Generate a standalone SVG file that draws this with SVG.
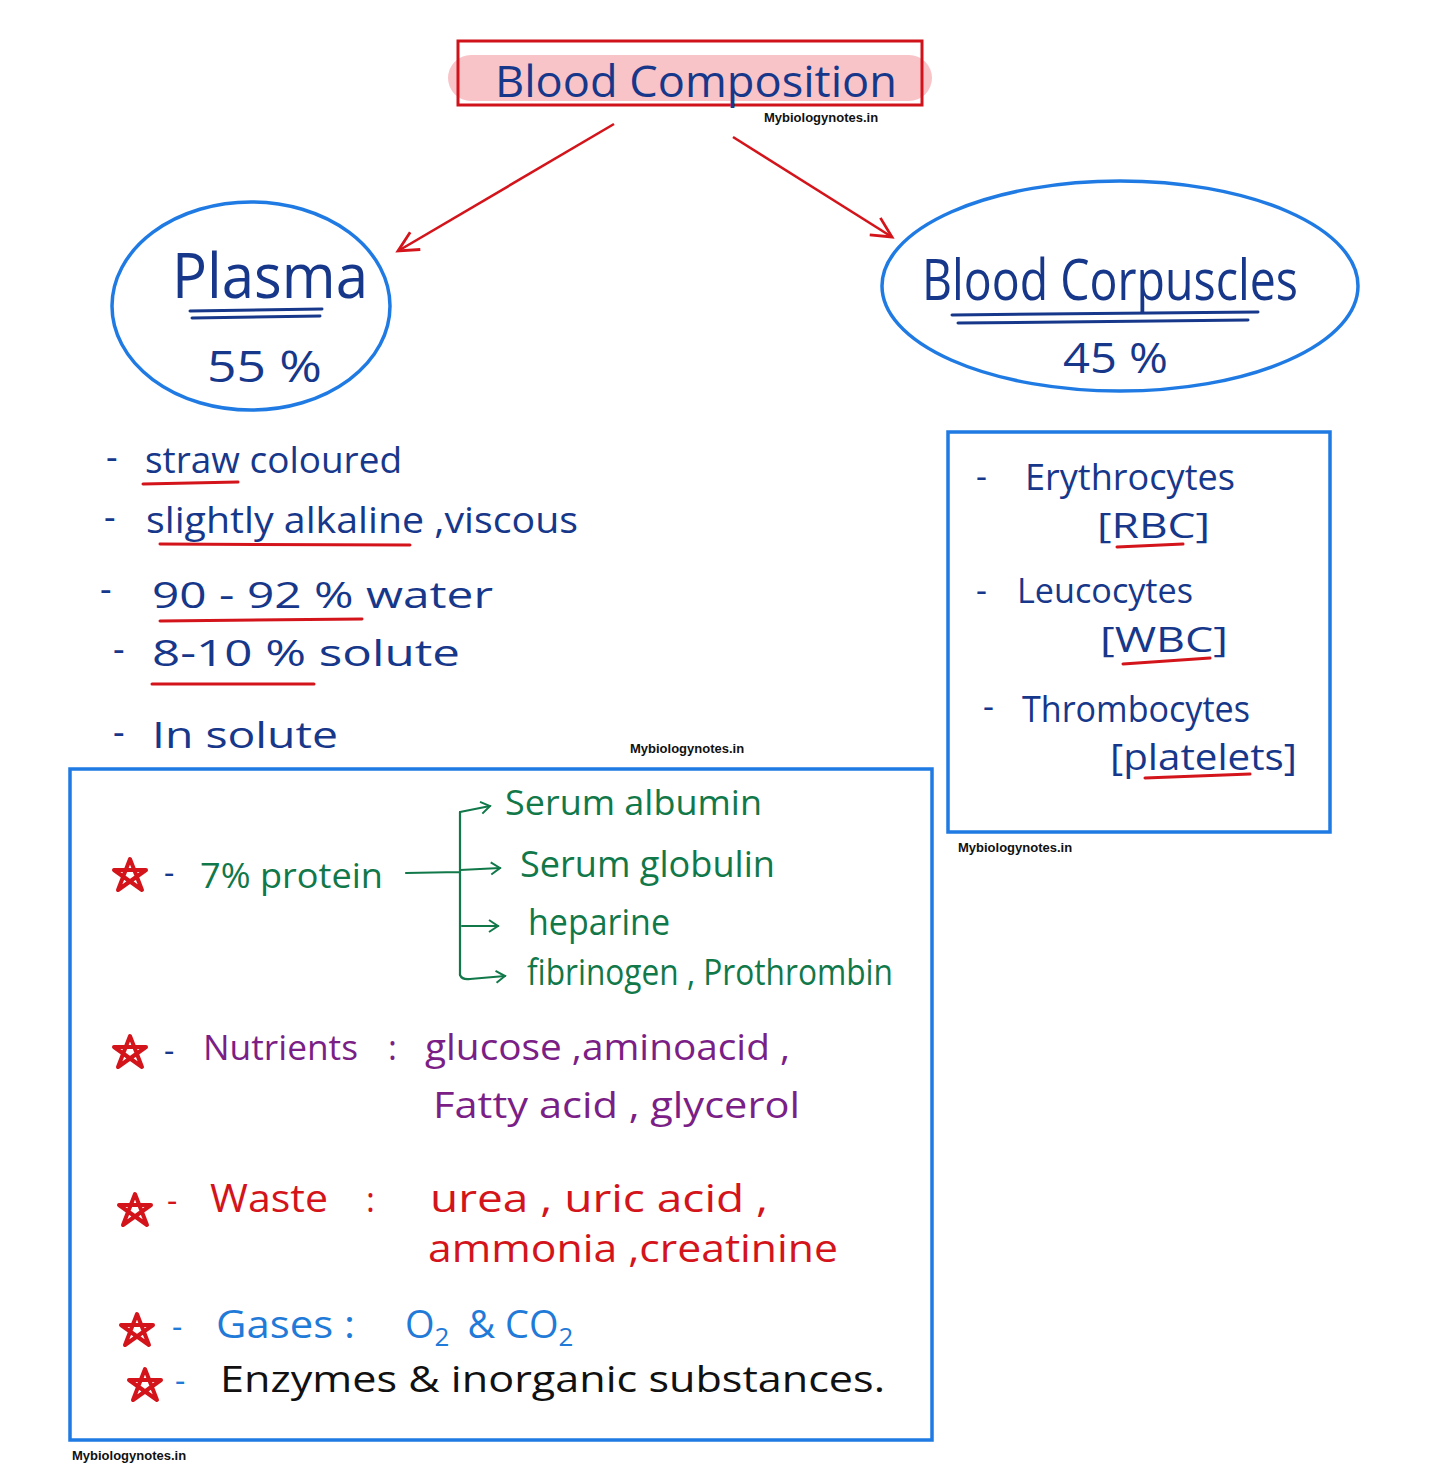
<svg xmlns="http://www.w3.org/2000/svg" width="1440" height="1484" viewBox="0 0 1440 1484">
<style>
text{font-family:"Open Sans","Liberation Sans",sans-serif}
.navy{fill:#17388a}
.green{fill:#11784a}
.purple{fill:#7b1f86}
.red{fill:#d3141b}
.lblue{fill:#1f7ad8}
.black{fill:#111}
.wm{font-family:"Liberation Sans",sans-serif;font-size:13px;font-weight:bold;fill:#111}
.blueline{fill:none;stroke:#1f7be3;stroke-width:3.5}
.ul{stroke:#d3141b;stroke-width:3;stroke-linecap:round;fill:none}
.nul{stroke:#17388a;stroke-width:3;stroke-linecap:round;fill:none}
.gline{stroke:#11784a;stroke-width:2.2;fill:none;stroke-linecap:round}
.star{fill:none;stroke:#d3141b;stroke-width:4;stroke-linejoin:round}
</style>
<defs>
<marker id="ah" markerWidth="30" markerHeight="30" refX="22" refY="11" orient="auto" markerUnits="userSpaceOnUse" viewBox="0 0 30 22">
<path d="M2,1 L22,11 L2,21" fill="none" stroke="#d3141b" stroke-width="2.8"/>
</marker>
<marker id="gh" markerWidth="16" markerHeight="16" refX="12" refY="8" orient="auto" markerUnits="userSpaceOnUse" viewBox="0 0 16 16">
<path d="M3,2 L12,8 L3,14" fill="none" stroke="#11784a" stroke-width="2"/>
</marker>
<path id="starp" d="M-12,15 L0,-16 L12,15 L-16,-5 L16,-5 Z"/>
</defs>
<rect width="1440" height="1484" fill="#fff"/>

<g id="title">
<rect x="448" y="55" width="484" height="46" rx="23" fill="#f8c4c8"/>
<rect x="458" y="41" width="464" height="64" fill="none" stroke="#d0121b" stroke-width="3"/>
<text x="495" y="97" class="navy" font-size="43" textLength="402" lengthAdjust="spacingAndGlyphs">Blood Composition</text>
<text x="764" y="122" class="wm">Mybiologynotes.in</text>
</g>

<g id="connectors">
<line x1="614" y1="124" x2="398" y2="251" stroke="#d3141b" stroke-width="2.6" marker-end="url(#ah)"/>
<line x1="733" y1="137" x2="892" y2="237" stroke="#d3141b" stroke-width="2.6" marker-end="url(#ah)"/>
</g>

<g id="plasma">
<ellipse cx="251" cy="306" rx="139" ry="104" class="blueline"/>
<text x="172" y="298" class="navy" font-size="62" textLength="196" lengthAdjust="spacingAndGlyphs">Plasma</text>
<path d="M190,311 L322,309 M192,318 L320,316" class="nul"/>
<text x="207" y="382" class="navy" font-size="44" textLength="115" lengthAdjust="spacingAndGlyphs">55 %</text>
</g>

<g id="corpuscles">
<ellipse cx="1120" cy="286" rx="238" ry="105" class="blueline"/>
<text x="922" y="300" class="navy" font-size="56" textLength="376" lengthAdjust="spacingAndGlyphs">Blood Corpuscles</text>
<path d="M952,315 L1258,312 M958,323 L1248,320" class="nul"/>
<text x="1063" y="373" class="navy" font-size="42" textLength="105" lengthAdjust="spacingAndGlyphs">45 %</text>
</g>

<g id="plasma-props" class="navy">
<text x="106" y="470" font-size="36">-</text>
<text x="145" y="473" font-size="36" textLength="257" lengthAdjust="spacingAndGlyphs">straw coloured</text>
<path d="M143,484 L238,482" class="ul"/>
<text x="104" y="530" font-size="36">-</text>
<text x="146" y="533" font-size="36" textLength="432" lengthAdjust="spacingAndGlyphs">slightly alkaline ,viscous</text>
<path d="M160,544 L410,545" class="ul"/>
<text x="100" y="602" font-size="36">-</text>
<text x="152" y="608" font-size="36" textLength="341" lengthAdjust="spacingAndGlyphs">90 - 92 % water</text>
<path d="M160,621 L362,619" class="ul"/>
<text x="113" y="662" font-size="36">-</text>
<text x="152" y="666" font-size="36" textLength="308" lengthAdjust="spacingAndGlyphs">8-10 % solute</text>
<path d="M152,684 L314,684" class="ul"/>
<text x="113" y="745" font-size="36">-</text>
<text x="152" y="748" font-size="36" textLength="186" lengthAdjust="spacingAndGlyphs">In solute</text>
<text x="630" y="753" class="wm">Mybiologynotes.in</text>
</g>

<g id="solute-box">
<rect x="70" y="769" width="862" height="671" class="blueline"/>
<use href="#starp" x="130" y="875" class="star"/>
<text x="164" y="884" font-size="32" class="navy">-</text>
<text x="200" y="888" font-size="34" class="green" textLength="183" lengthAdjust="spacingAndGlyphs">7% protein</text>
<path d="M406,873 L460,872 M460,812 L460,975" class="gline"/>
<path d="M460,812 L490,806" class="gline" marker-end="url(#gh)"/>
<path d="M460,870 L500,868" class="gline" marker-end="url(#gh)"/>
<path d="M462,926 L498,926" class="gline" marker-end="url(#gh)"/>
<path d="M460,975 Q462,980 470,979 L505,976" class="gline" marker-end="url(#gh)"/>
<text x="505" y="815" font-size="34" class="green" textLength="257" lengthAdjust="spacingAndGlyphs">Serum albumin</text>
<text x="520" y="877" font-size="36" class="green" textLength="255" lengthAdjust="spacingAndGlyphs">Serum globulin</text>
<text x="528" y="935" font-size="36" class="green" textLength="142" lengthAdjust="spacingAndGlyphs">heparine</text>
<text x="527" y="985" font-size="36" class="green" textLength="366" lengthAdjust="spacingAndGlyphs">fibrinogen , Prothrombin</text>

<use href="#starp" x="130" y="1052" class="star"/>
<text x="164" y="1062" font-size="32" class="navy">-</text>
<text x="203" y="1060" font-size="34" class="purple" textLength="155" lengthAdjust="spacingAndGlyphs">Nutrients</text>
<text x="388" y="1060" font-size="34" class="purple">:</text>
<text x="425" y="1060" font-size="36" class="purple" textLength="365" lengthAdjust="spacingAndGlyphs">glucose ,aminoacid ,</text>
<text x="433" y="1118" font-size="36" class="purple" textLength="367" lengthAdjust="spacingAndGlyphs">Fatty acid , glycerol</text>

<use href="#starp" x="135" y="1210" class="star"/>
<text x="167" y="1212" font-size="32" class="red">-</text>
<text x="210" y="1212" font-size="38" class="red" textLength="118" lengthAdjust="spacingAndGlyphs">Waste</text>
<text x="366" y="1212" font-size="34" class="red">:</text>
<text x="430" y="1212" font-size="38" class="red" textLength="338" lengthAdjust="spacingAndGlyphs">urea , uric acid ,</text>
<text x="428" y="1262" font-size="38" class="red" textLength="410" lengthAdjust="spacingAndGlyphs">ammonia ,creatinine</text>

<use href="#starp" x="137" y="1330" class="star"/>
<text x="172" y="1338" font-size="32" class="lblue">-</text>
<text x="216" y="1338" font-size="38" class="lblue" textLength="139" lengthAdjust="spacingAndGlyphs">Gases :</text>
<text x="405" y="1338" font-size="38" class="lblue">O<tspan font-size="26" dy="8">2</tspan><tspan dy="-8" dx="18">&amp; CO</tspan><tspan font-size="26" dy="8">2</tspan></text>

<use href="#starp" x="145" y="1385" class="star"/>
<text x="175" y="1392" font-size="32" class="lblue">-</text>
<text x="220" y="1392" font-size="36" class="black" textLength="665" lengthAdjust="spacingAndGlyphs">Enzymes &amp; inorganic substances.</text>
<text x="72" y="1460" class="wm">Mybiologynotes.in</text>
</g>

<g id="corpuscle-box" class="navy">
<rect x="948" y="432" width="382" height="400" class="blueline"/>
<text x="976" y="488" font-size="34">-</text>
<text x="1025" y="490" font-size="36" textLength="210" lengthAdjust="spacingAndGlyphs">Erythrocytes</text>
<text x="1097" y="538" font-size="34" textLength="113" lengthAdjust="spacingAndGlyphs">[RBC]</text>
<path d="M1117,547 L1183,544" class="ul"/>
<text x="976" y="602" font-size="34">-</text>
<text x="1017" y="603" font-size="34" textLength="176" lengthAdjust="spacingAndGlyphs">Leucocytes</text>
<text x="1100" y="652" font-size="34" textLength="128" lengthAdjust="spacingAndGlyphs">[WBC]</text>
<path d="M1123,664 L1210,658" class="ul"/>
<text x="983" y="718" font-size="34">-</text>
<text x="1022" y="722" font-size="36" textLength="228" lengthAdjust="spacingAndGlyphs">Thrombocytes</text>
<text x="1110" y="770" font-size="36" textLength="187" lengthAdjust="spacingAndGlyphs">[platelets]</text>
<path d="M1145,778 L1250,774" class="ul"/>
<text x="958" y="852" class="wm">Mybiologynotes.in</text>
</g>
</svg>
